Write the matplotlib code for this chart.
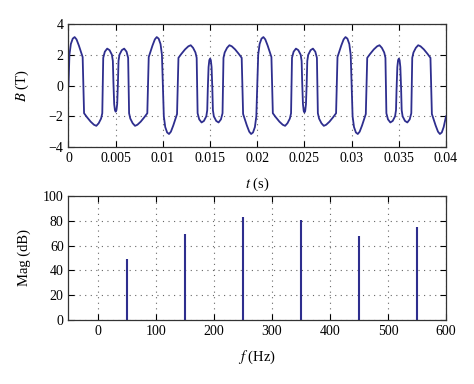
import numpy as np
import matplotlib.pyplot as plt

plt.rcParams['font.family'] = 'Liberation Serif'
plt.rcParams['mathtext.fontset'] = 'stix'

# waveform, time in ms
t_ms = [
    0.00, 0.10, 0.25, 0.45, 0.65, 0.85, 1.10, 1.50, 1.65, 1.95, 2.35, 2.70, 2.95, 3.20, 3.45, 3.58,
    3.68, 3.85, 4.10, 4.35, 4.60, 4.70, 4.76, 4.84, 4.92, 5.00, 5.08, 5.16, 5.24, 5.30, 5.40, 5.65, 5.90, 6.15,
    6.32, 6.42, 6.55, 6.80, 7.05, 7.30, 7.65, 8.05, 8.35, 8.50, 8.90, 9.15, 9.35, 9.55, 9.75, 9.90,
    10.00, 10.10, 10.25, 10.45, 10.65, 10.85, 11.10, 11.50, 11.65, 11.95, 12.35, 12.70, 12.95, 13.20, 13.45, 13.58,
    13.68, 13.85, 14.10, 14.35, 14.60, 14.70, 14.76, 14.84, 14.92, 15.00, 15.08, 15.16, 15.24, 15.30, 15.40, 15.65, 15.90, 16.15,
    16.32, 16.42, 16.55, 16.80, 17.05, 17.30, 17.65, 18.05, 18.35, 18.50, 18.90, 19.15, 19.35, 19.55, 19.75, 19.90,
    20.00, 20.10, 20.25, 20.45, 20.65, 20.85, 21.10, 21.50, 21.65, 21.95, 22.35, 22.70, 22.95, 23.20, 23.45, 23.58,
    23.68, 23.85, 24.10, 24.35, 24.60, 24.70, 24.76, 24.84, 24.92, 25.00, 25.08, 25.16, 25.24, 25.30, 25.40, 25.65, 25.90, 26.15,
    26.32, 26.42, 26.55, 26.80, 27.05, 27.30, 27.65, 28.05, 28.35, 28.50, 28.90, 29.15, 29.35, 29.55, 29.75, 29.90,
    30.00, 30.10, 30.25, 30.45, 30.65, 30.85, 31.10, 31.50, 31.65, 31.95, 32.35, 32.70, 32.95, 33.20, 33.45, 33.58,
    33.68, 33.85, 34.10, 34.35, 34.60, 34.70, 34.76, 34.84, 34.92, 35.00, 35.08, 35.16, 35.24, 35.30, 35.40, 35.65, 35.90, 36.15,
    36.32, 36.42, 36.55, 36.80, 37.05, 37.30, 37.65, 38.05, 38.35, 38.50, 38.90, 39.15, 39.35, 39.55, 39.75, 40.00,
]
b_T = [
    0.0, 2.0, 2.7, 3.05, 3.15, 3.0, 2.6, 1.85, -1.8, -2.05, -2.35, -2.55, -2.62, -2.45, -2.15, -1.8,
    1.8, 2.2, 2.4, 2.3, 2.0, 1.6, 0.2, -1.2, -1.6, -1.7, -1.6, -1.2, 0.2, 1.6, 2.0, 2.3, 2.4, 2.2,
    1.8, -1.8, -2.15, -2.45, -2.62, -2.55, -2.35, -2.05, -1.8, 1.85, 2.6, 3.0, 3.15, 3.05, 2.7, 2.0,
    0.0, -2.0, -2.7, -3.05, -3.15, -3.0, -2.6, -1.85, 1.8, 2.05, 2.35, 2.55, 2.62, 2.45, 2.15, 1.8,
    -1.8, -2.2, -2.4, -2.3, -2.0, -1.6, -0.2, 1.2, 1.65, 1.75, 1.65, 1.2, -0.2, -1.6, -2.0, -2.3, -2.4, -2.2,
    -1.8, 1.8, 2.15, 2.45, 2.62, 2.55, 2.35, 2.05, 1.8, -1.85, -2.6, -3.0, -3.15, -3.05, -2.7, -2.0,
    0.0, 2.0, 2.7, 3.05, 3.15, 3.0, 2.6, 1.85, -1.8, -2.05, -2.35, -2.55, -2.62, -2.45, -2.15, -1.8,
    1.8, 2.2, 2.4, 2.3, 2.0, 1.6, 0.2, -1.2, -1.65, -1.75, -1.65, -1.2, 0.2, 1.6, 2.0, 2.3, 2.4, 2.2,
    1.8, -1.8, -2.15, -2.45, -2.62, -2.55, -2.35, -2.05, -1.8, 1.85, 2.6, 3.0, 3.15, 3.05, 2.7, 2.0,
    0.0, -2.0, -2.7, -3.05, -3.15, -3.0, -2.6, -1.85, 1.8, 2.05, 2.35, 2.55, 2.62, 2.45, 2.15, 1.8,
    -1.8, -2.2, -2.4, -2.3, -2.0, -1.6, -0.2, 1.2, 1.65, 1.75, 1.65, 1.2, -0.2, -1.6, -2.0, -2.3, -2.4, -2.2,
    -1.8, 1.8, 2.15, 2.45, 2.62, 2.55, 2.35, 2.05, 1.8, -1.85, -2.6, -3.0, -3.15, -3.05, -2.7, -2.0,
]

# harmonic spectrum
freq_hz = [50, 150, 250, 350, 450, 550]
mag_db = [49, 69, 83, 81, 68, 75]

t_ticks = [0, 0.005, 0.01, 0.015, 0.02, 0.025, 0.03, 0.035, 0.04]
t_labels = ['0', '0.005', '0.01', '0.015', '0.02', '0.025', '0.03', '0.035', '0.04']

blue = '#2e2e8e'

fig = plt.figure(figsize=(4.74, 3.84), dpi=100)
ax1 = fig.add_axes([0.1445, 0.617, 0.7965, 0.3205])
ax2 = fig.add_axes([0.1445, 0.1667, 0.7965, 0.323])

ax1.plot(np.array(t_ms) / 1000, b_T, color=blue, lw=1.3)
ax1.set_xlim(0, 0.04)
ax1.set_ylim(-4, 4)
ax1.set_xticks(t_ticks)
ax1.set_xticklabels(t_labels)
ax1.set_yticks([-4, -2, 0, 2, 4])
ax1.set_xlabel('$t$ (s)', fontsize=10.5, labelpad=8)
ax1.set_ylabel('$B$ (T)', fontsize=10.5)

ax2.vlines(freq_hz, 0, mag_db, color=blue, lw=1.5)
ax2.set_xlim(-50, 600)
ax2.set_ylim(0, 100)
ax2.set_xticks([0, 100, 200, 300, 400, 500, 600])
ax2.set_yticks([0, 20, 40, 60, 80, 100])
ax2.set_xlabel('$f$ (Hz)', fontsize=10.5, labelpad=8)
ax2.set_ylabel('Mag (dB)', fontsize=10.5)

for ax in (ax1, ax2):
    ax.yaxis.set_label_coords(-0.098, 0.5)
    ax.grid(True, linestyle=(0, (1, 4)), color='0.4', linewidth=0.8)
    ax.tick_params(direction='in', length=4, width=0.8, top=True, right=True, labelsize=10)
    for s in ax.spines.values():
        s.set_linewidth(0.9)
        s.set_color('0.2')

fig.savefig('out.png', dpi=100)
